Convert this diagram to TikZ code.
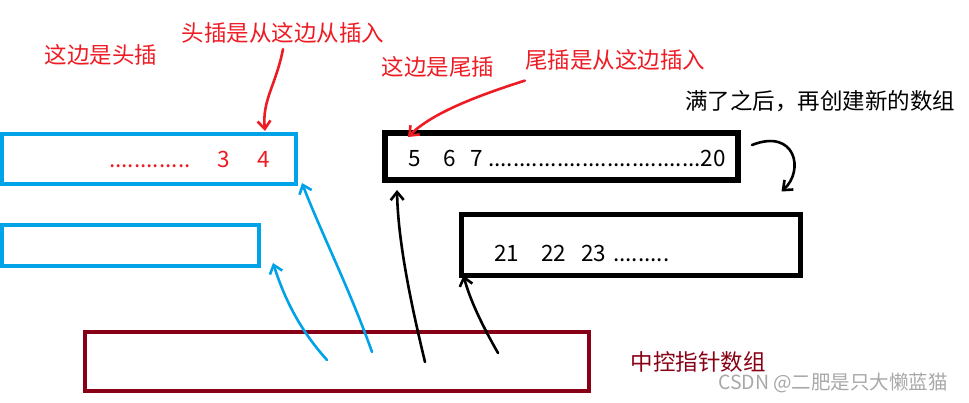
\documentclass[tikz,border=0pt]{standalone}
\usepackage{fontspec}
\setmainfont{Noto Sans CJK SC}
\usetikzlibrary{arrows.meta}
\definecolor{blu}{HTML}{00A2E8}
\definecolor{rd}{HTML}{ED1C24}
\definecolor{drd}{HTML}{880015}
\definecolor{wmk}{HTML}{A8A8A8}
\tikzset{
  box/.style={draw,minimum width=#1,inner sep=0,outer sep=0},
  txt/.style={inner sep=0,font=\fontsize{22.5}{27}\selectfont},
  num/.style={txt,anchor=base west},
  hand/.style={line width=2.6pt,line cap=round,line join=round,-{Straight Barb[length=8pt,width=13pt]}}
}
\begin{document}
\begin{tikzpicture}[x=1pt,y=-1pt]
\useasboundingbox (0,0) rectangle (969,403);
% arrays
\node[box=294pt,minimum height=50pt,line width=4pt,blu] (blu1) at (149,159) {};
\node[box=257pt,minimum height=41pt,line width=4pt,blu] (blu2) at (130.5,245.5) {};
\node[box=504pt,minimum height=59pt,line width=4.5pt,drd] (ctrl) at (337,361.5) {};
\node[box=353pt,minimum height=47pt,line width=5.5pt] (blk1) at (561.5,156.5) {};
\node[box=339pt,minimum height=61pt,line width=5pt] (blk2) at (631,245) {};
% contents
\path (109,168) node[num,rd] (rdots) {.............} (217,168) node[num,rd] (n3) {3} (257,168) node[num,rd] (n4) {4};
\path (408,167) node[num] (n5) {5} (443,167) node[num] (n6) {6} (470,167) node[num] (n7) {7}
  (488,167) node[num] (n20) {..................................20};
\path (494,262) node[num] (n21) {21} (541,262) node[num] (n22) {22} (581,262) node[num] (n23) {23}
  (613,262) node[num] (bdots) {.........};
% labels
\node[txt,rd] (headside) at (101,55) {这边是头插};
\node[txt,rd] (headlbl) at (283,32.5) {头插是从这边从插入};
\node[txt,rd] (tailside) at (438,67) {这边是尾插};
\node[txt,rd] (taillbl) at (615,60) {尾插是从这边插入};
\node[txt] (fulllbl) at (820,101) {满了之后，再创建新的数组};
\node[txt,drd] (ctrllbl) at (698,362) {中控指针数组};
\node[inner sep=0,wmk,font=\fontsize{19.5}{23}\selectfont] (mark) at (833,383) {CSDN @二肥是只大懒蓝猫};
% hand drawn arrows
\coordinate (p1) at (327,360); \coordinate (p2) at (372,352);
\coordinate (p3) at (425,362); \coordinate (p4) at (498,353);
\coordinate (turn) at (752,145);
\draw[hand,rd] ([yshift=-6pt]headlbl.south) .. controls (276,85) and (262,100) .. ([xshift=-31pt,yshift=3pt]blu1.north east);
\draw[hand,rd] ([yshift=-10pt]taillbl.south west) .. controls (470,98) and (430,115) .. ([xshift=23pt,yshift=-4pt]blk1.north west);
\draw[hand] (turn) .. controls (795,128) and (805,170) .. ([xshift=-19pt,yshift=23pt]blk2.north east);
\draw[hand,blu] (p1) .. controls (300,330) and (285,300) .. ([xshift=14pt,yshift=3pt]blu2.south east);
\draw[hand,blu] (p2) .. controls (350,290) and (320,230) .. ([xshift=6pt,yshift=1pt]blu1.south east);
\draw[hand] (p3) .. controls (410,300) and (398,240) .. ([xshift=12pt,yshift=-10pt]blk1.south west);
\draw[hand] (p4) .. controls (482,325) and (470,300) .. ([xshift=2pt]blk2.south west);
\end{tikzpicture}
\end{document}
